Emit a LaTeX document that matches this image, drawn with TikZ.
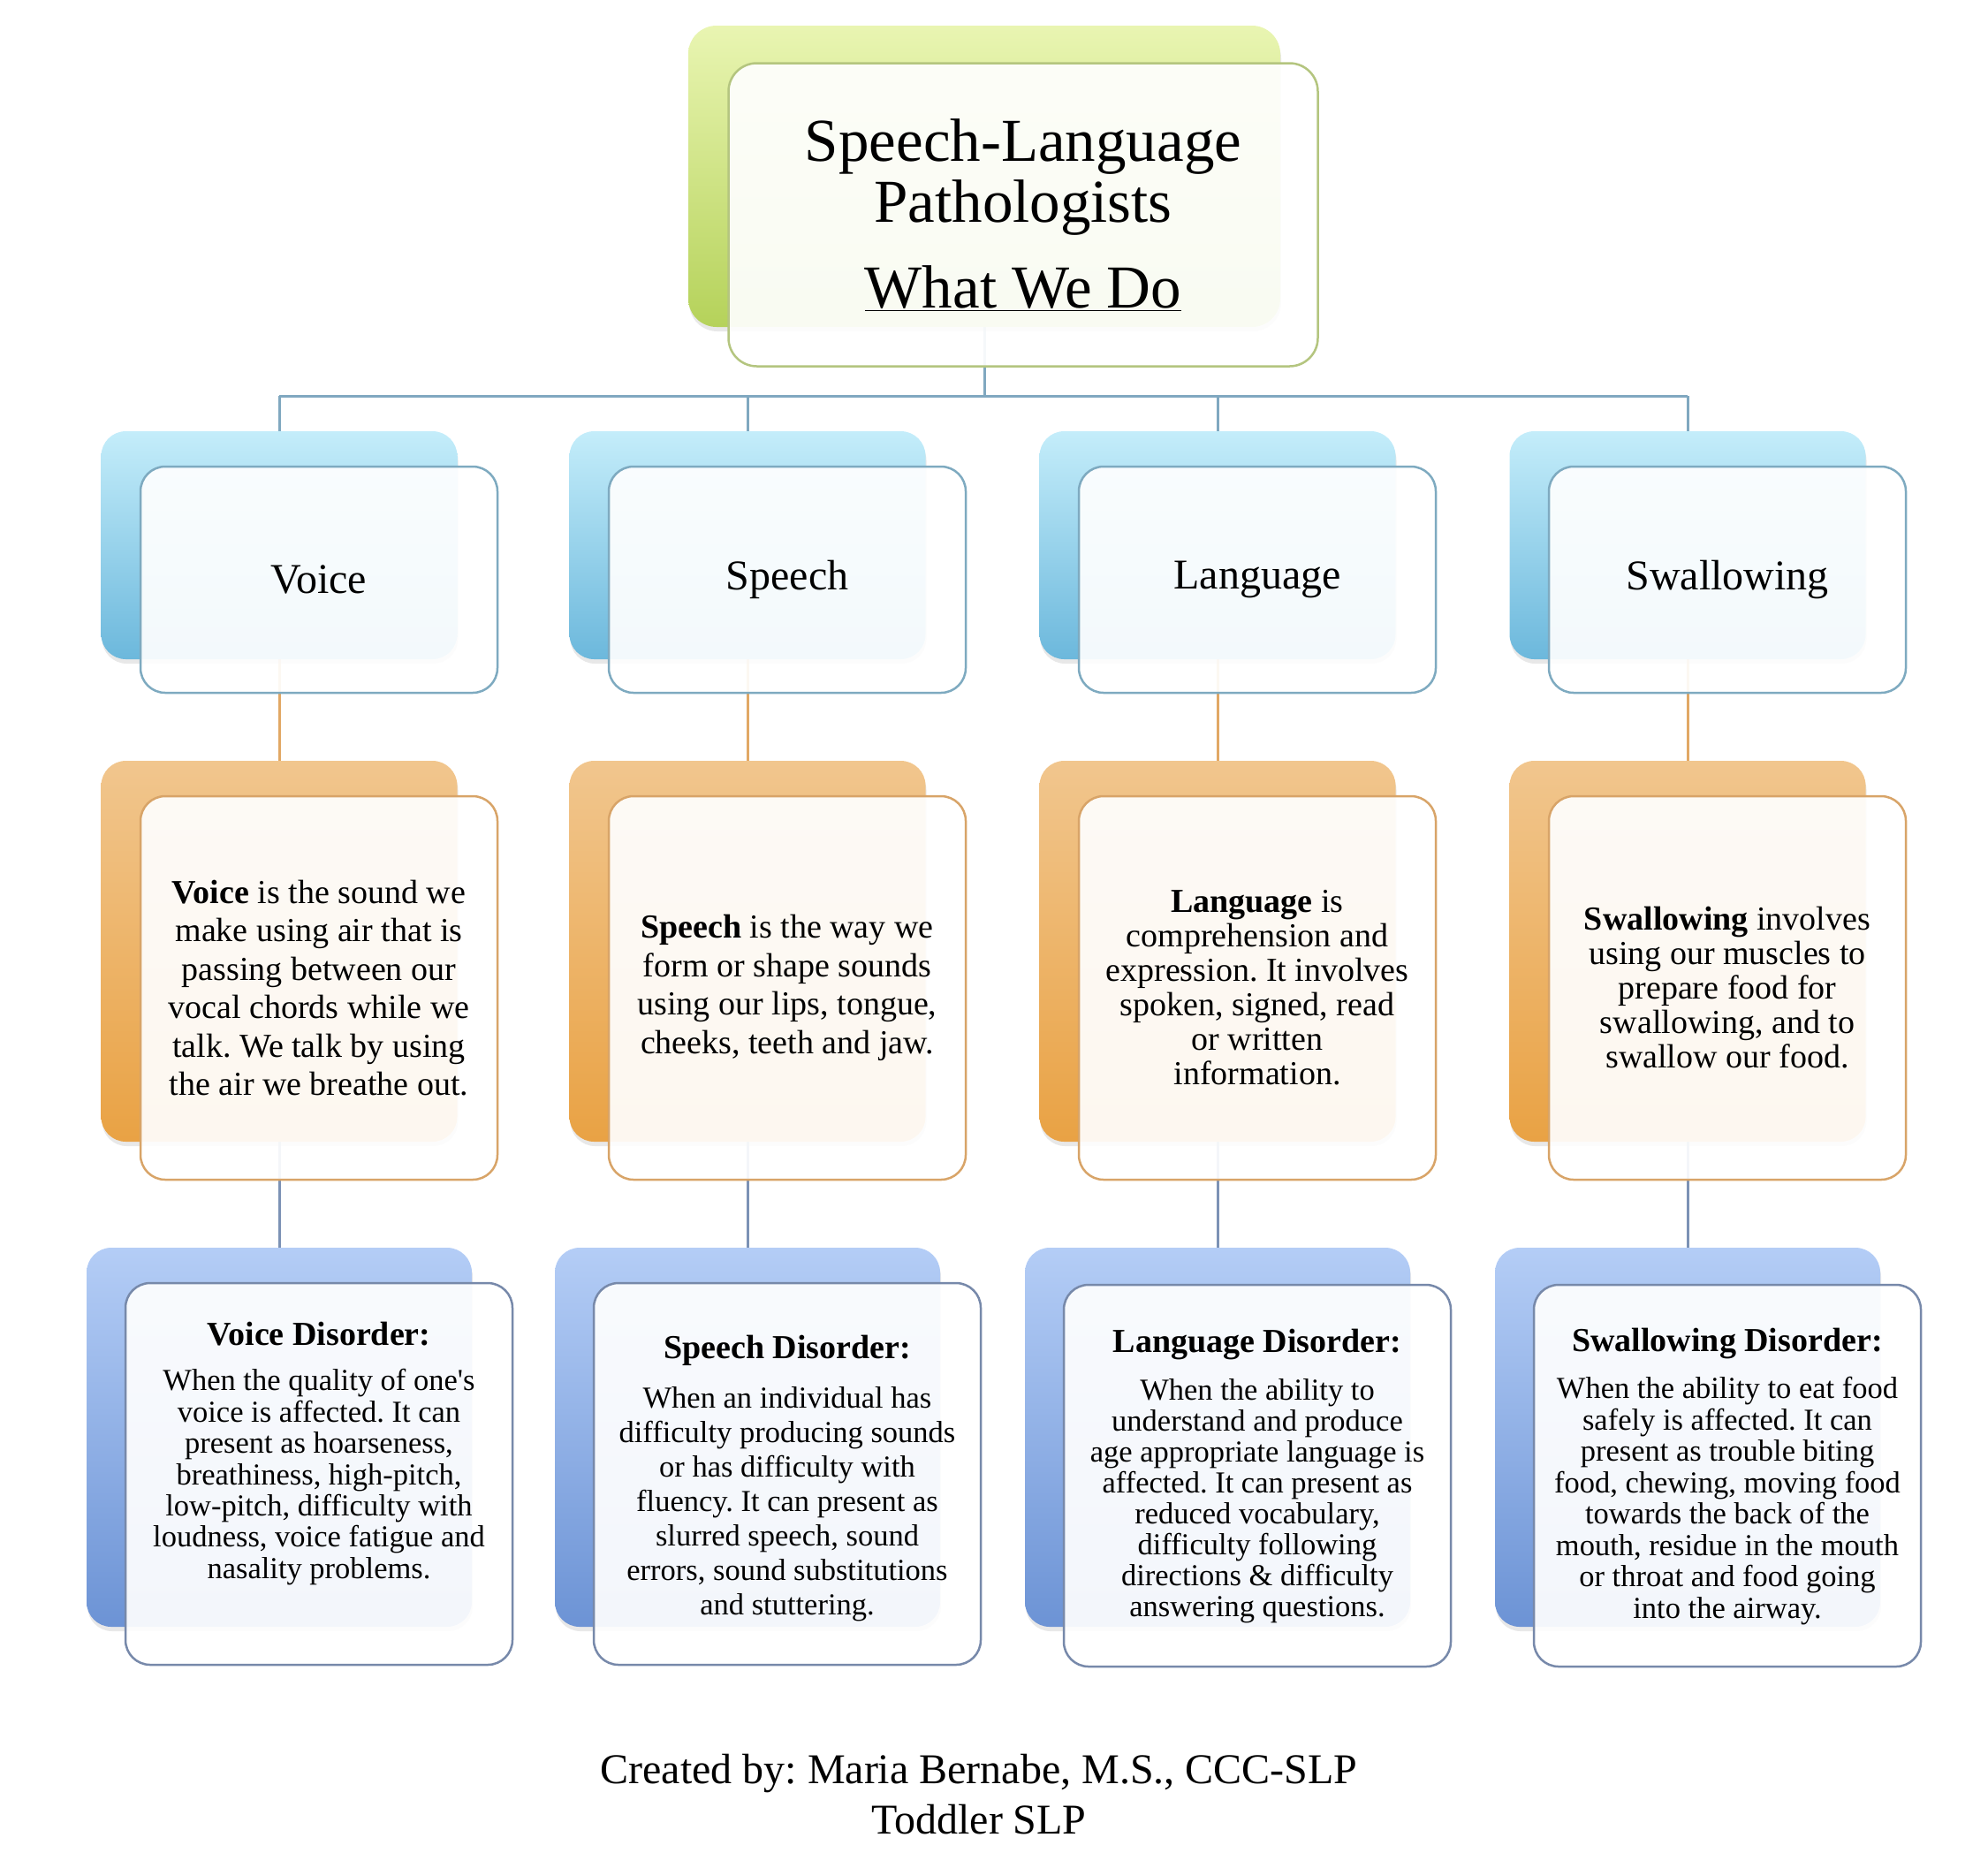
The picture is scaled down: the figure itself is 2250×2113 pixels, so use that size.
\documentclass[tikz,border=0pt]{standalone}
\usepackage{fontspec}
\setmainfont{Liberation Serif}
\usetikzlibrary{shadows}
\frenchspacing
\definecolor{greentop}{HTML}{E9F5B2}
\definecolor{greenbot}{HTML}{B5D25A}
\definecolor{greenline}{HTML}{B4C57F}
\definecolor{bluetop}{HTML}{C4EDFA}
\definecolor{bluebot}{HTML}{6CB8DC}
\definecolor{blueline}{HTML}{7EAAC0}
\definecolor{orgtop}{HTML}{F1C68E}
\definecolor{orgbot}{HTML}{E9A244}
\definecolor{orgline}{HTML}{D8A468}
\definecolor{distop}{HTML}{B4CDF6}
\definecolor{disbot}{HTML}{6C93D5}
\definecolor{disline}{HTML}{7789AA}
\definecolor{treeline}{HTML}{80A8C0}
\definecolor{orgconn}{HTML}{E1A865}
\definecolor{disconn}{HTML}{7C92B5}
\pgfdeclarelayer{bg}
\pgfsetlayers{bg,main}
\tikzset{
  back/.style={rounded corners=28pt, inner sep=0pt, draw=none,
    drop shadow={shadow xshift=1pt, shadow yshift=-5pt, opacity=.18}},
  front/.style={rounded corners=28pt, inner sep=0pt, line width=2.5pt,
    fill=white, fill opacity=.92, text opacity=1, align=center},
  tbk/.style={back, rounded corners=32pt, minimum width=670pt, minimum height=341pt, top color=greentop, bottom color=greenbot},
  tfr/.style={front, rounded corners=32pt, draw=greenline, minimum width=667pt, minimum height=343pt},
  bbk/.style={back, minimum width=403pt, minimum height=258pt, top color=bluetop, bottom color=bluebot},
  bfr/.style={front, draw=blueline, minimum width=404pt, minimum height=256pt, font=\fontsize{48}{52}\selectfont},
  obk/.style={back, minimum width=403pt, minimum height=431pt, top color=orgtop, bottom color=orgbot},
  ofr/.style={front, draw=orgline, minimum width=404pt, minimum height=434pt},
  dbk/.style={back, minimum width=436pt, minimum height=429pt, top color=distop, bottom color=disbot},
  dfr/.style={front, draw=disline, minimum width=438pt, minimum height=432pt},
  dtxt/.style={align=center, inner sep=0pt},
  tconn/.style={draw=treeline, line width=3pt},
  oconn/.style={draw=orgconn, line width=3pt},
  dconn/.style={draw=disconn, line width=3pt},
}
\newcommand{\dtitle}[1]{{\fontsize{38}{35}\selectfont\bfseries #1}}
\begin{document}
\begin{tikzpicture}[x=1pt,y=-1pt]
\useasboundingbox (0,0) rectangle (2250,2113);

% top
\node[tbk] (tb) at (1114,199.5) {};
\node[tfr, font=\fontsize{69}{69}\selectfont] (tf) at (1158,243)
  {Speech-Language\\Pathologists\\[28pt]\underline{What We Do}};

% row 1
\node[bbk] (b1) at (316,617) {};
\node[bbk] (b2) at (846,617) {};
\node[bbk] (b3) at (1378,617) {};
\node[bbk] (b4) at (1910,617) {};
\node[bfr] (bf1) at (361,656) {Voice};
\node[bfr] (bf2) at (891,656) {Speech};
\node[bfr] (bf3) at (1423,656) {Language};
\node[bfr] (bf4) at (1955,656) {Swallowing};

% row 2
\node[obk] (o1) at (316,1076.5) {};
\node[obk] (o2) at (846,1076.5) {};
\node[obk] (o3) at (1378,1076.5) {};
\node[obk] (o4) at (1910,1076.5) {};
\node[ofr, font=\fontsize{38}{43.5}\selectfont] (of1) at (361,1118)
  {\textbf{Voice} is the sound we\\make using air that is\\passing between our\\vocal chords while we\\talk. We talk by using\\the air we breathe out.};
\node[ofr, font=\fontsize{38}{43.5}\selectfont] (of2) at (891,1118)
  {\textbf{Speech} is the way we\\form or shape sounds\\using our lips, tongue,\\cheeks, teeth and jaw.};
\node[ofr, font=\fontsize{38}{39}\selectfont] (of3) at (1423,1118)
  {\textbf{Language} is\\comprehension and\\expression. It involves\\spoken, signed, read\\or written\\information.};
\node[ofr, font=\fontsize{38}{39}\selectfont] (of4) at (1955,1118)
  {\textbf{Swallowing} involves\\using our muscles to\\prepare food for\\swallowing, and to\\swallow our food.};

% row 3
\node[dbk] (d1) at (316,1626.5) {};
\node[dbk] (d2) at (846,1626.5) {};
\node[dbk] (d3) at (1378,1626.5) {};
\node[dbk] (d4) at (1910,1626.5) {};
\node[dfr] (df1) at (361,1668) {};
\node[dfr] (df2) at (891,1668) {};
\node[dfr] (df3) at (1423,1670) {};
\node[dfr] (df4) at (1955,1670) {};
\node[dtxt, font=\fontsize{34.5}{35.4}\selectfont] (dt1) at (361,1645)
  {\dtitle{Voice Disorder:}\\[16pt]When the quality of one\textquotesingle s\\voice is affected. It can\\present as hoarseness,\\breathiness, high-pitch,\\low-pitch, difficulty with\\loudness, voice fatigue and\\nasality problems.};
\node[dtxt, font=\fontsize{34.5}{39}\selectfont] (dt2) at (891,1673)
  {\dtitle{Speech Disorder:}\\[17pt]When an individual has\\difficulty producing sounds\\or has difficulty with\\fluency. It can present as\\slurred speech, sound\\errors, sound substitutions\\and stuttering.};
\node[dtxt, font=\fontsize{34.5}{35}\selectfont] (dt3) at (1423,1671)
  {\dtitle{Language Disorder:}\\[19pt]When the ability to\\understand and produce\\age appropriate language is\\affected. It can present as\\reduced vocabulary,\\difficulty following\\directions \& difficulty\\answering questions.};
\node[dtxt, font=\fontsize{34.5}{35.5}\selectfont] (dt4) at (1955,1671)
  {\dtitle{Swallowing Disorder:}\\[17.5pt]When the ability to eat food\\safely is affected. It can\\present as trouble biting\\food, chewing, moving food\\towards the back of the\\mouth, residue in the mouth\\or throat and food going\\into the airway.};

% footer
\node[align=center, font=\fontsize{48}{57}\selectfont] (foot) at (1108,2031)
  {Created by: Maria Bernabe, M.S., CCC-SLP\\Toddler SLP};

% connectors
\coordinate (hub) at (1113,448);
\begin{pgfonlayer}{bg}
\draw[tconn] (tb.south) -- (tb.south |- hub);
\draw[tconn] (b1.north |- hub) -- (b4.north |- hub);
\draw[tconn] (b1.north |- hub) -- (b1.north);
\draw[tconn] (b2.north |- hub) -- (b2.north);
\draw[tconn] (b3.north |- hub) -- (b3.north);
\draw[tconn] (b4.north |- hub) -- (b4.north);
\draw[oconn] (b1.south) -- (o1.north);
\draw[oconn] (b2.south) -- (o2.north);
\draw[oconn] (b3.south) -- (o3.north);
\draw[oconn] (b4.south) -- (o4.north);
\draw[dconn] (o1.south) -- (d1.north);
\draw[dconn] (o2.south) -- (d2.north);
\draw[dconn] (o3.south) -- (d3.north);
\draw[dconn] (o4.south) -- (d4.north);
\end{pgfonlayer}
\end{tikzpicture}
\end{document}
